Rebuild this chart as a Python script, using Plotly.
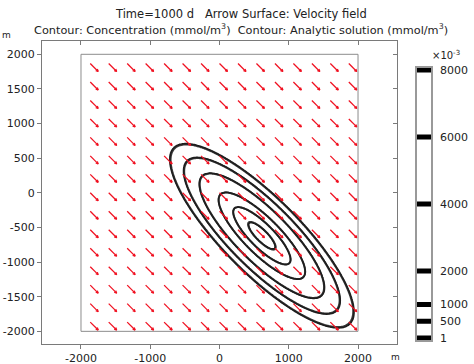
import numpy as np
import plotly.graph_objects as go

# ---------------- data ----------------
# contour levels (mmol/m^3) and colour-legend levels (x10^-3)
contour_levels = [0.5, 1.0, 2.0, 4.0, 6.0, 8.0]
legend_levels = [1, 500, 1000, 2000, 4000, 6000, 8000]
legend_labels = ["1", "500", "1000", "2000", "4000", "6000", "8000"]

# plume parameters (analytic / numerical)
plume_center_x = 612.0
plume_center_y = -620.0
profile_exponent = 1.7
analytic_peak = 9.0
analytic_sigma_long = 955.0
analytic_sigma_trans = 292.0
numeric_peak = 8.9
numeric_sigma_long = 965.0
numeric_sigma_trans = 296.0

# uniform velocity field (direction) and arrow grid
velocity_u = 1.0
velocity_v = -1.0
arrow_count = 15
arrow_length = 115.0
head_length = 38.0

x_ticks = [-2000, -1000, 0, 1000, 2000]
y_ticks = [-2000, -1500, -1000, -500, 0, 500, 1000, 1500, 2000]

FONT = "DejaVu Sans"
XR = [-2563, 2563]
YR = [-2183, 2192]

# ---------------- fields ----------------
gx = np.linspace(-2000, 2000, 241)
gy = np.linspace(-2000, 2000, 241)
X, Y = np.meshgrid(gx, gy)


def plume(peak, sl, st):
    dx = X - plume_center_x
    dy = Y - plume_center_y
    xi = (dx - dy) / np.sqrt(2)
    eta = (dx + dy) / np.sqrt(2)
    q = (xi / sl) ** 2 + (eta / st) ** 2
    return peak * np.exp(-q ** (profile_exponent / 2))


Z_num = plume(numeric_peak, numeric_sigma_long, numeric_sigma_trans)
Z_ana = plume(analytic_peak, analytic_sigma_long, analytic_sigma_trans)

fig = go.Figure()

# arrows (shaft + two barbs)
centers = [-2000 + 4000 * (i + 0.5) / arrow_count for i in range(arrow_count)]
ang = np.arctan2(velocity_v, velocity_u)
L = arrow_length * np.sqrt(2)
ax, ay = np.cos(ang) * L, np.sin(ang) * L
b1 = (np.cos(ang + np.pi - 0.45) * head_length, np.sin(ang + np.pi - 0.45) * head_length)
b2 = (np.cos(ang + np.pi + 0.45) * head_length, np.sin(ang + np.pi + 0.45) * head_length)
sx, sy = [], []
for yc in centers:
    for xc in centers:
        x1, y1 = xc + ax, yc + ay
        sx += [xc, x1, None, x1 + b1[0], x1, x1 + b2[0], None]
        sy += [yc, y1, None, y1 + b1[1], y1, y1 + b2[1], None]

fig.add_trace(go.Scatter(x=sx, y=sy, mode="lines",
                         line=dict(color="#f01020", width=1.25),
                         hoverinfo="skip", showlegend=False))

# contours
for Z, col, w in [(Z_ana, "#3c3c3c", 2.0), (Z_num, "#1e1e1e", 1.7)]:
    for lev in contour_levels:
        fig.add_trace(go.Contour(
            x=gx, y=gy, z=Z, showscale=False,
            contours=dict(start=lev, end=lev, size=1, coloring="none"),
            line=dict(color=col, width=w, smoothing=1.0),
            hoverinfo="skip", showlegend=False))

# colour legend bands
for lev in legend_levels:
    fig.add_trace(go.Scatter(x=[0, 1], y=[lev, lev], mode="lines",
                             line=dict(color="black", width=5),
                             xaxis="x2", yaxis="y2",
                             hoverinfo="skip", showlegend=False))

# invisible trace on the mirrored tick axes
fig.add_trace(go.Scatter(x=[0], y=[0], mode="markers", opacity=0,
                         xaxis="x3", yaxis="y3", hoverinfo="skip",
                         showlegend=False))

# inner domain frame
fig.add_shape(type="rect", x0=-2000, x1=2000, y0=-2000, y1=2000,
              xref="x", yref="y", line=dict(color="#8c8c8c", width=1),
              layer="above")

FRAME = "#7a7a7a"
axis_common = dict(showgrid=False, zeroline=False, showline=True,
                   linecolor=FRAME, linewidth=1, ticks="outside",
                   ticklen=4, tickcolor=FRAME, automargin=False,
                   tickfont=dict(family=FONT, size=11, color="#222"))
mirror_common = dict(showgrid=False, zeroline=False, showline=False,
                     ticks="inside", ticklen=4, tickcolor=FRAME,
                     showticklabels=False, automargin=False, fixedrange=True)

fig.update_layout(
    width=474, height=364,
    margin=dict(l=42, r=20, t=41, b=20, autoexpand=False),
    paper_bgcolor="white", plot_bgcolor="white",
    font=dict(family=FONT, size=11, color="#222"),
    xaxis=dict(domain=[0, 0.8617], range=XR,
               tickvals=x_ticks, ticktext=[str(v) for v in x_ticks],
               mirror=True, **axis_common),
    yaxis=dict(domain=[0, 1], range=YR,
               tickvals=y_ticks, ticktext=[str(v) for v in y_ticks],
               mirror=True, **axis_common),
    xaxis3=dict(overlaying="x", side="top", anchor="y3", range=XR,
                tickvals=x_ticks, **mirror_common),
    yaxis3=dict(overlaying="y", side="right", anchor="x3", range=YR,
                tickvals=y_ticks, **mirror_common),
    xaxis2=dict(domain=[0.9102, 0.9442], range=[0, 1], showgrid=False,
                zeroline=False, showline=True, mirror=True,
                linecolor="#999999", linewidth=1.5, showticklabels=False,
                ticks="", anchor="y2", fixedrange=True, automargin=False),
    yaxis2=dict(domain=[0.0132, 0.9119], range=[-60, 8069], showgrid=False,
                zeroline=False, showline=True, mirror=True,
                linecolor="#999999", linewidth=1.5, side="right",
                tickvals=legend_levels, ticktext=legend_labels, ticks="",
                ticklabelstandoff=5, anchor="x2", automargin=False,
                fixedrange=True,
                tickfont=dict(family=FONT, size=11, color="#222")),
    annotations=[
        dict(text="Time=1000 d   Arrow Surface: Velocity field",
             xref="paper", yref="paper", x=0.483, y=1.089,
             showarrow=False, xanchor="center", yanchor="middle",
             font=dict(family=FONT, size=11.5, color="#222")),
        dict(text="Contour: Concentration (mmol/m<sup>3</sup>)  "
                  "Contour: Analytic solution (mmol/m<sup>3</sup>)",
             xref="paper", yref="paper", x=0.483, y=1.0396,
             showarrow=False, xanchor="center", yanchor="middle",
             font=dict(family=FONT, size=11.3, color="#222")),
        dict(text="m", xref="paper", yref="paper", x=-0.085, y=1.02,
             showarrow=False, xanchor="center", yanchor="middle",
             font=dict(family=FONT, size=9, color="#222")),
        dict(text="m", xref="paper", yref="paper", x=0.857, y=-0.043,
             showarrow=False, xanchor="center", yanchor="middle",
             font=dict(family=FONT, size=9, color="#222")),
        dict(text="×10<sup>-3</sup>", xref="paper", yref="paper",
             x=0.9806, y=0.954, showarrow=False, xanchor="center",
             yanchor="middle", font=dict(family=FONT, size=10, color="#222")),
    ],
)

fig.write_html("out.html", config={"displayModeBar": False},
               post_script="document.body.style.margin='0';"
                           "document.body.style.overflow='hidden';")
